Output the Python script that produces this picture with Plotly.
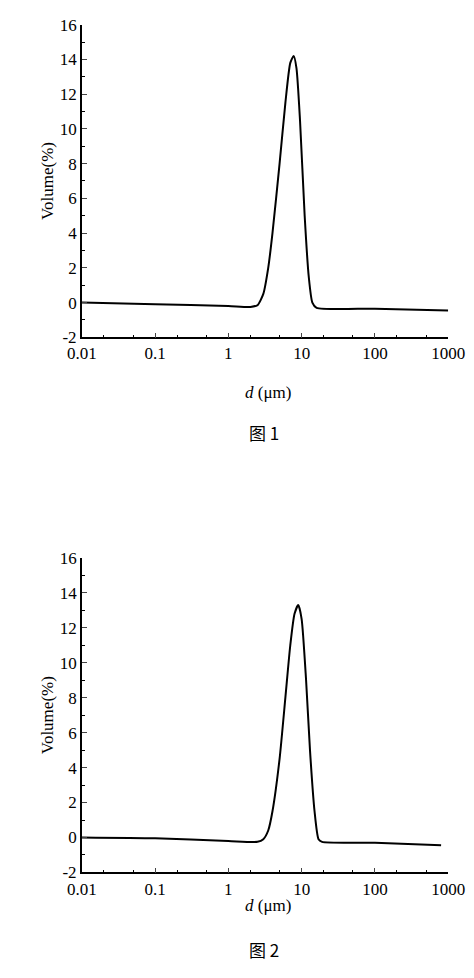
import plotly.graph_objects as go

d1 = [0.01, 0.1, 1, 2, 2.5, 3, 3.5, 4, 5, 6, 7, 7.8, 8.5, 9.5, 11, 12.5, 14, 16, 100, 1000]
v1 = [0, -0.1, -0.2, -0.25, -0.15, 0.5, 2, 4, 8, 11.5, 13.8, 14.2, 13.5, 10.5, 5, 1.5, 0.0, -0.3, -0.35, -0.45]
d2 = [0.01, 0.1, 1, 2.5, 3, 3.5, 4, 5, 6, 7, 8, 9, 10, 11.5, 13, 15, 17, 19, 100, 800]
v2 = [0, -0.05, -0.2, -0.25, -0.1, 0.4, 1.5, 4.5, 8, 11, 12.8, 13.3, 12.5, 9, 5, 1.5, -0.1, -0.25, -0.3, -0.45]
xticks = [0.01, 0.1, 1, 10, 100, 1000]
xlabels = ["0.01", "0.1", "1", "10", "100", "1000"]
yticks = list(range(-2, 17, 2))
ylabels = [str(t).replace("-", "-") for t in yticks]

font = dict(family="Liberation Serif, Times New Roman, serif", size=17, color="black")
fig = go.Figure()
fig.add_trace(go.Scatter(x=d1, y=v1, mode="lines", line=dict(color="black", width=2, shape="spline", smoothing=0.6),
                         xaxis="x", yaxis="y", showlegend=False))
fig.add_trace(go.Scatter(x=d2, y=v2, mode="lines", line=dict(color="black", width=2, shape="spline", smoothing=0.6),
                         xaxis="x2", yaxis="y2", showlegend=False))

xa = dict(type="log", range=[-2, 3], domain=[0.133, 0.962], tickvals=xticks, ticktext=xlabels,
          ticks="inside", ticklen=5, showline=True, linecolor="black", linewidth=1.5, showgrid=False,
          zeroline=False, tickfont=font, minor=dict(ticks="inside", ticklen=3, tickcolor="black"))
ya = dict(range=[-2, 16], tickvals=yticks, ticktext=ylabels, ticks="inside", ticklen=5, showline=True,
          linecolor="black", linewidth=1.5, showgrid=False, zeroline=False, tickfont=font,
          minor=dict(ticks="inside", ticklen=3, dtick=1, tickcolor="black"),
          title=dict(text="Volume(%)", font=font, standoff=2))

fig.update_layout(
    width=474, height=978, margin=dict(l=0, r=0, t=0, b=0),
    paper_bgcolor="white", plot_bgcolor="white",
    xaxis=dict(xa, anchor="y"), yaxis=dict(ya, domain=[0.666, 0.992], anchor="x"),
    xaxis2=dict(xa, anchor="y2"), yaxis2=dict(ya, domain=[0.108, 0.436], anchor="x2"),
    annotations=[
        dict(text="<i>d</i> (μm)", x=0.555, y=0.608, xref="paper", yref="paper", showarrow=False, font=font),
        dict(text="图 1", x=0.545, y=0.567, xref="paper", yref="paper", showarrow=False,
             font=dict(family="Noto Sans CJK SC", size=17, color="black")),
        dict(text="<i>d</i> (μm)", x=0.555, y=0.062, xref="paper", yref="paper", showarrow=False, font=font),
        dict(text="图 2", x=0.545, y=0.013, xref="paper", yref="paper", showarrow=False,
             font=dict(family="Noto Sans CJK SC", size=17, color="black")),
    ],
)
fig.write_html("out.html")
